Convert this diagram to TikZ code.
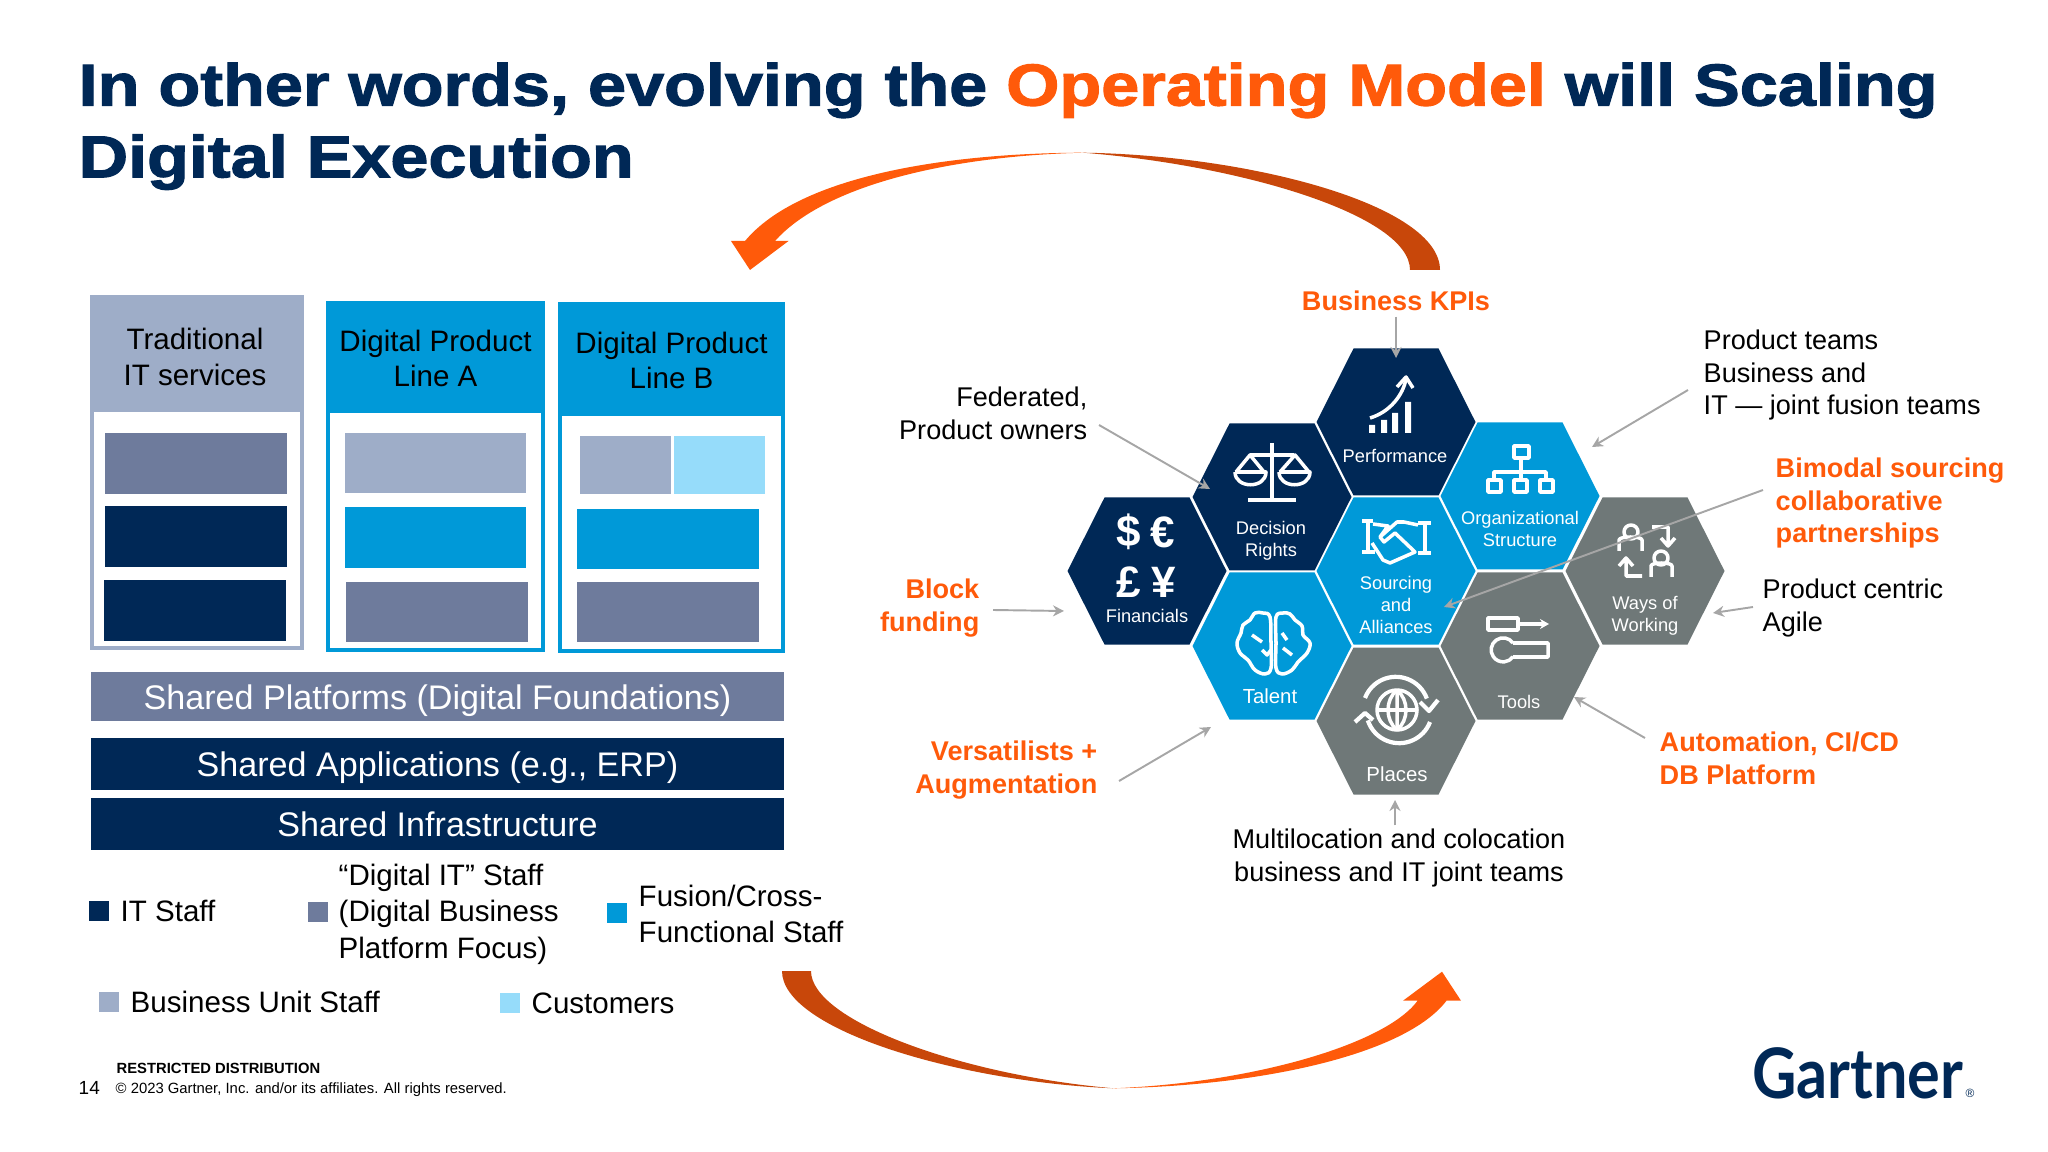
\documentclass[tikz,border=0pt]{standalone}
\usepackage{fontspec}
\setmainfont{Liberation Sans}
\newfontfamily\titlefont[FakeStretch=1.158,BoldFeatures={FakeBold=2}]{Liberation Sans}
\newfontfamily\logofont[FakeStretch=0.88]{Lato}
\usetikzlibrary{positioning,arrows.meta,fit,calc}
\definecolor{navy}{HTML}{002856}
\definecolor{slate}{HTML}{6E7B9C}
\definecolor{steel}{HTML}{9EADC8}
\definecolor{azure}{HTML}{0099D8}
\definecolor{pale}{HTML}{96DCFA}
\definecolor{iron}{HTML}{6F7878}
\definecolor{flame}{HTML}{FF5A0A}
\definecolor{ember}{HTML}{C8470A}
\definecolor{callgrey}{HTML}{A6A6A6}
\tikzset{
  slab/.style={inner sep=0pt,outer sep=0pt},
  panelhead/.style={inner sep=0pt,align=center,font=\fontsize{8.4}{10}\selectfont},
  bar/.style={inner sep=0pt,text=white,font=\fontsize{9.7}{11}\selectfont},
  note/.style={inner sep=0pt,font=\fontsize{7.7}{9.3}\selectfont},
  hot/.style={note,text=flame,font=\fontsize{7.7}{9.3}\selectfont\bfseries},
  hexlabel/.style={inner sep=0pt,align=center,text=white,font=\fontsize{5.2}{6.3}\selectfont},
  money/.style={inner sep=0pt,text=white,font=\fontsize{12.5}{13}\selectfont\bfseries},
  legendbox/.style={inner sep=0pt,minimum size=0.2cm},
  legendtext/.style={inner sep=0pt,anchor=west,align=left,font=\fontsize{8.4}{10.4}\selectfont},
  callout/.style={->,draw=callgrey,line width=0.55pt},
  icon/.style={draw=white,line width=1pt,line join=round},
}
\newcommand{\hexcell}[3]{\coordinate (#1) at (#2);
  \fill[#3] (#2) ++(-79.5,0) -- ++(37,-73.5) -- ++(85,0) -- ++(37,73.5) -- ++(-37,73.5) -- ++(-85,0) -- cycle;}
\begin{document}
\begin{tikzpicture}[x=0.01cm,y=-0.01cm,>={Stealth[length=1.1mm,width=1.1mm]}]
\useasboundingbox (0,0) rectangle (2048,1152);
% title
\node (title) [anchor=north west,inner sep=0pt,align=left,text=navy,font=\titlefont\fontsize{16.8}{20.4}\selectfont\bfseries] at (78,62)
  {In other words, evolving the \textcolor{flame}{Operating Model} will Scaling\\Digital Execution};
% big arrows
\fill[flame] (1083,152.7) .. controls (950,153) and (800,175) .. (745,241) -- (731,241) -- (750,270) -- (788.5,241) -- (775,241) .. controls (825,185) and (950,156) .. (1083,152.7) -- cycle;
\fill[ember] (1083,152.7) .. controls (1250,155) and (1440,205) .. (1440,270) -- (1410,270) .. controls (1410,215) and (1240,165) .. (1083,152.7) -- cycle;
\fill[ember] (782,971) .. controls (782,1030) and (960,1082) .. (1113.6,1088.3) .. controls (960,1075) and (811,1020) .. (811,971) -- cycle;
\fill[flame] (1113.6,1088.3) .. controls (1260,1086) and (1405,1055) .. (1446.5,1000.7) -- (1461,1000.7) -- (1442,971.7) -- (1403,1000.7) -- (1417.6,1000.7) .. controls (1385,1045) and (1250,1083) .. (1113.6,1088.3) -- cycle;
% left panels
\node (trad) [slab,draw=steel,line width=1pt,fit={(92,297) (302,648)}] {};
\node (tradhead) [slab,fill=steel,fit={(91,296) (303,412)}] {};
\node (tradtxt) [panelhead] at ($(tradhead.center)+(-2,3)$) {Traditional\\IT services};
\node (tradA) [slab,fill=slate,fit={(105,433) (287,494)}] {};
\node (tradB) [slab,fill=navy,fit={(105,506) (287,567)}] {};
\node (tradC) [slab,fill=navy,fit={(104,580) (286,641)}] {};
\node (lineA) [slab,draw=azure,line width=1pt,fit={(328,303) (543,650)}] {};
\node (lineAhead) [slab,fill=azure,fit={(327,302) (544,413)}] {};
\node (lineAtxt) [panelhead] at ($(lineAhead.center)+(0,1)$) {Digital Product\\Line A};
\node (lineAa) [slab,fill=steel,fit={(345,433) (526,493)}] {};
\node (lineAb) [slab,fill=azure,fit={(345,507) (526,568)}] {};
\node (lineAc) [slab,fill=slate,fit={(346,582) (528,642)}] {};
\node (lineB) [slab,draw=azure,line width=1pt,fit={(560,304) (783,651)}] {};
\node (lineBhead) [slab,fill=azure,fit={(559,303) (784,416)}] {};
\node (lineBtxt) [panelhead] at ($(lineBhead.center)+(0,1)$) {Digital Product\\Line B};
\node (lineBa) [slab,fill=steel,fit={(580,436) (671,494)}] {};
\node (lineBb) [slab,fill=pale,fit={(674,436) (765,494)}] {};
\node (lineBc) [slab,fill=azure,fit={(577,509) (759,569)}] {};
\node (lineBd) [slab,fill=slate,fit={(577,582) (759,642)}] {};
% shared layers
\node (platforms) [slab,fill=slate,fit={(91,672) (784,721)}] {};
\node (apps) [slab,fill=navy,fit={(91,738) (784,790)}] {};
\node (infra) [slab,fill=navy,fit={(91,798) (784,850)}] {};
\node (platformstxt) [bar] at ($(platforms.center)+(0,4)$) {Shared Platforms (Digital Foundations)};
\node (appstxt) [bar] at ($(apps.center)+(0,4)$) {Shared Applications (e.g., ERP)};
\node (infratxt) [bar] at (infra.center) {Shared Infrastructure};
% legend
\node (keyIT) [legendbox,fill=navy] at (99,911) {};
\node (txtIT) [legendtext] at (120,911) {IT Staff};
\node (keyDig) [legendbox,fill=slate] at (318,912) {};
\node (txtDig) [legendtext] at (338,914) {“Digital IT” Staff\\(Digital Business\\Platform Focus)};
\node (keyFus) [legendbox,fill=azure] at (617,913) {};
\node (txtFus) [legendtext] at (638,914) {Fusion/Cross-\\Functional Staff};
\node (keyBiz) [legendbox,fill=steel] at (109,1002) {};
\node (txtBiz) [legendtext] at (130,1002) {Business Unit Staff};
\node (keyCus) [legendbox,fill=pale] at (510,1003) {};
\node (txtCus) [legendtext] at (531,1003) {Customers};
% hexagons
\hexcell{hexPerf}{1396,422}{navy}
\hexcell{hexDec}{1272,497}{navy}
\hexcell{hexFin}{1147,571}{navy}
\hexcell{hexOrg}{1520,496}{azure}
\hexcell{hexSrc}{1396,571}{azure}
\hexcell{hexTal}{1272,646}{azure}
\hexcell{hexWay}{1645,571}{iron}
\hexcell{hexToo}{1520,646}{iron}
\hexcell{hexPla}{1396,721}{iron}
\node (perf) [hexlabel] at (1395,456) {Performance};
\node (dec) [hexlabel] at (1271,541) {Decision\\Rights};
\node (fin) [hexlabel] at (1147,616) {Financials};
\node (org) [hexlabel] at (1520,529) {Organizational\\Structure};
\node (src) [hexlabel] at (1396,605) {Sourcing\\and\\Alliances};
\node (tal) [hexlabel,font=\fontsize{5.8}{7}\selectfont] at (1270,696) {Talent};
\node (way) [hexlabel] at (1645,616) {Ways of\\Working};
\node (too) [hexlabel] at (1519,702) {Tools};
\node (pla) [hexlabel,font=\fontsize{5.8}{7}\selectfont] at (1397,774) {Places};
% icons
\node (dollar) [money] at (1129,532) {\$};
\node (euro) [money] at (1163,532) {€};
\node (pound) [money] at (1129,582) {£};
\node (yen) [money] at (1164,582) {¥};
\fill[white] (1369,425) rectangle (1375,433) (1381,420) rectangle (1387,433) (1392,413) rectangle (1398,433) (1405,402) rectangle (1411,433);
\draw[icon] (1370,418) .. controls (1390,412) and (1403,395) .. (1406,379);
\draw[icon] (1397,387) -- (1406,377) -- (1413,388);
\draw[icon] (1272,443) -- (1272,500) (1250,455) -- (1294,455);
\draw[icon,line width=1.4pt] (1248,500) -- (1296,500);
\draw[icon] (1236,472) -- (1250,455) -- (1264,472) (1280,472) -- (1295,455) -- (1309,472);
\draw[icon] (1235,472) -- (1266,472) .. controls (1266,489) and (1235,489) .. (1235,472);
\draw[icon] (1279,472) -- (1310,472) .. controls (1310,489) and (1279,489) .. (1279,472);
\draw[icon] (1514,446) rectangle (1529,458) (1488,480) rectangle (1501,492) (1514,480) rectangle (1527,492) (1540,480) rectangle (1553,492);
\draw[icon] (1521,458) -- (1521,472) (1494,480) -- (1494,472) -- (1546,472) -- (1546,480) (1521,472) -- (1521,480);
\draw[icon] (1362,521) -- (1373,521) (1368,521) -- (1368,552) (1362,552) -- (1375,552);
\draw[icon] (1418,523) -- (1431,523) (1425,523) -- (1425,553) (1418,553) -- (1431,553);
\draw[icon] (1373,524) -- (1388,526) -- (1380,537) -- (1397,522) -- (1404,522) -- (1418,525);
\draw[icon] (1380,537) -- (1384,542) -- (1395,533) -- (1415,552) -- (1390,563) -- (1383,560) -- (1372,543);
\draw[icon] plot[smooth cycle,tension=0.6] coordinates {(1270,617) (1263,613) (1255,613) (1250,620) (1243,625) (1241,633) (1237,643) (1240,653) (1248,660) (1255,670) (1265,674) (1271,668) (1271,643)};
\draw[icon] plot[smooth cycle,tension=0.6] coordinates {(1276,617) (1283,613) (1290,614) (1295,620) (1302,626) (1303,635) (1310,643) (1307,653) (1298,662) (1292,670) (1282,674) (1276,668) (1276,643)};
\draw[icon] (1252,635) -- (1262,642) (1262,650) -- (1267,655) -- (1271,650) (1282,633) -- (1287,640) (1283,648) -- (1292,655);
\draw[icon] (1619,551) -- (1619,540) .. controls (1619,536) and (1642,536) .. (1642,540) -- (1642,551);
\draw[icon] (1631,532) circle (7);
\draw[icon] (1651,577) -- (1651,566) .. controls (1651,562) and (1672,562) .. (1672,566) -- (1672,577);
\draw[icon] (1661,558) circle (7);
\draw[icon] (1652,527) -- (1668,527) -- (1668,545) (1661,538) -- (1668,546) -- (1675,538);
\draw[icon] (1642,576) -- (1626,576) -- (1626,558) (1619,566) -- (1626,558) -- (1633,566);
\draw[icon] (1488,618) rectangle (1518,630);
\draw[icon,-{Stealth[length=0.9mm,width=1mm]}] (1518,624) -- (1549,624);
\draw[icon] (1513,643) -- (1548,643) -- (1548,657) -- (1513,657) (1513,643) arc[start angle=-35,end angle=-325,radius=12];
\draw[icon] (1397,710) circle (20) (1397,690) -- (1397,730) (1377,710) -- (1417,710);
\draw[icon] (1397,690) .. controls (1385,700) and (1385,720) .. (1397,730) (1397,690) .. controls (1409,700) and (1409,720) .. (1397,730);
\draw[icon,line width=1.2pt] (1365,698) arc[start angle=-159,end angle=-20,radius=33];
\draw[icon,line width=1.2pt] (1420,702) -- (1429,711) -- (1438,700);
\draw[icon,line width=1.2pt] (1430,722) arc[start angle=21,end angle=162,radius=33];
\draw[icon,line width=1.2pt] (1355,722) -- (1365,713) -- (1373,720);
% notes
\node (kpi) [hot] at (1396,301) {Business KPIs};
\node (fedlbl) [note,align=right,anchor=east] at (1088,413) {Federated,\\Product owners};
\node (teamlbl) [note,align=left,anchor=west] at (1703,375) {Product teams\\Business and\\IT — joint fusion teams};
\node (bimlbl) [hot,align=left,anchor=west] at (1775,503) {Bimodal sourcing\\collaborative\\partnerships};
\node (blocklbl) [hot,align=right,anchor=east] at (980,608) {Block\\funding};
\node (agilelbl) [note,align=left,anchor=west] at (1762,608) {Product centric\\Agile};
\node (verslbl) [hot,align=right,anchor=east] at (1098,770) {Versatilists +\\Augmentation};
\node (autolbl) [hot,align=left,anchor=west] at (1659,758) {Automation, CI/CD\\DB Platform};
\node (multilbl) [note,align=center] at (1399,858) {Multilocation and colocation\\business and IT joint teams};
% callouts
\coordinate (kpitip) at (1396,358);
\coordinate (fedtip) at (1210,489);
\coordinate (teamtip) at (1592,447);
\coordinate (bimtip) at (1444,607);
\coordinate (blocktip) at (1064,611);
\coordinate (agiletip) at (1713,613);
\coordinate (verstip) at (1211,727);
\coordinate (autotip) at (1574,697);
\coordinate (multitip) at (1395,800);
\draw[callout] ($(kpi.south)+(0,5)$) -- (kpitip);
\draw[callout] ($(fedlbl.east)+(11,12)$) -- (fedtip);
\draw[callout] ($(teamlbl.west)+(-15,15)$) -- (teamtip);
\draw[callout] ($(bimlbl.west)+(-12,-13)$) -- (bimtip);
\draw[callout] ($(blocklbl.east)+(13,2)$) -- (blocktip);
\draw[callout] ($(agilelbl.west)+(-9,-1)$) -- (agiletip);
\draw[callout] ($(verslbl.east)+(21,11)$) -- (verstip);
\draw[callout] ($(autolbl.west)+(-14,-20)$) -- (autotip);
\draw[callout] ($(multilbl.north)+(-4,-3)$) -- (multitip);
% footer
\node (pageno) [inner sep=0pt,anchor=west,font=\fontsize{5.4}{6}\selectfont] at (78,1088) {14};
\node (restrict) [inner sep=0pt,anchor=west,font=\fontsize{4.2}{5}\selectfont\bfseries] at (116,1068) {RESTRICTED DISTRIBUTION};
\node (copy) [inner sep=0pt,anchor=west,font=\fontsize{4.22}{5}\selectfont] at (115,1090) {© 2023 Gartner, Inc. and/or its affiliates. All rights reserved.};
\node (logo) [inner sep=0pt,anchor=base east,text=navy,font=\logofont\fontsize{19.8}{20}\selectfont\bfseries] at (1964,1098) {Gartner};
\node (logoreg) [inner sep=0pt,anchor=west,text=navy,font=\fontsize{3.4}{4}\selectfont] at (1965,1093) {®};
\end{tikzpicture}
\end{document}
